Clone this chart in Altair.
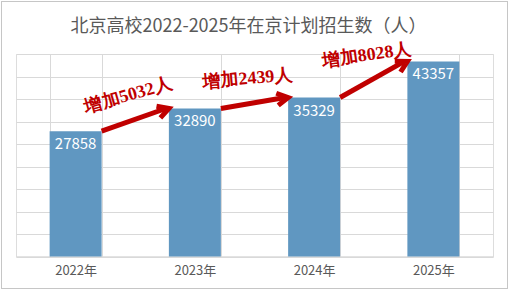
import math
import altair as alt
import pandas as pd

years = ["2022年", "2023年", "2024年", "2025年"]
values = [27858, 32890, 35329, 43357]
increase_labels = ["增加5032人", "增加2439人", "增加8028人"]
label_angles = [344, 355, 352]

W, H = 477, 202.5
YMAX = 45000
PAD_INNER = 0.564
HALF_BAR = (1 - PAD_INNER) / 2
N = len(values)
STEP_PX = W / N
PX_PER_VAL = H / YMAX

bars_df = pd.DataFrame({"year": years, "value": values})

rows = []
for i in range(N - 1):
    x0 = i + 0.5 + HALF_BAR
    x1 = i + 1.5 - HALF_BAR
    y0, y1 = values[i], values[i + 1]
    ang = math.degrees(math.atan2((y1 - y0) * PX_PER_VAL, (x1 - x0) * STEP_PX))
    mx, my = (x0 + x1) / 2, (y0 + y1) / 2
    rows.append(dict(
        x0=x0, x1=x1 - 3 / STEP_PX, y0=y0, y1=y1,
        hx=x1, hy=y1,
        head=(360 - ang) % 360,
        tx=mx - 7 / STEP_PX,
        ty=my + 24 / PX_PER_VAL,
        label=increase_labels[i],
        tangle=label_angles[i],
    ))
arrows_df = pd.DataFrame(rows)

FONT = "Noto Sans CJK SC"
RED = "#c00000"
GRID = "#d9d9d9"

xband = alt.Scale(paddingInner=PAD_INNER, paddingOuter=PAD_INNER / 2)
yscale = alt.Scale(domain=[0, YMAX], nice=False)
yaxis = alt.Axis(values=list(range(0, YMAX + 1, 5000)), labels=False, ticks=False,
                 domain=False, title=None, gridColor=GRID, grid=True)
xq = alt.Scale(domain=[0, N], nice=False, zero=False)

frame = alt.Chart(bars_df).mark_rect(filled=False, stroke="#c6c6c6", strokeWidth=1).encode(
    x=alt.value(-14.5), x2=alt.value(W + 14.5), y=alt.value(-52.5), y2=alt.value(H + 32)
)

bars = alt.Chart(bars_df).mark_bar(color="#6097c1").encode(
    x=alt.X("year:N", sort=years, scale=xband,
            axis=alt.Axis(title=None, labelAngle=0, ticks=False, domainColor=GRID,
                          grid=True, tickBand="extent", gridColor=GRID,
                          labelFontSize=13, labelColor="#595959", labelPadding=8,
                          labelFont=FONT)),
    y=alt.Y("value:Q", scale=yscale, axis=yaxis),
)

bar_labels = alt.Chart(bars_df).mark_text(color="white", fontSize=15, baseline="middle",
                                          dy=13, font=FONT).encode(
    x=alt.X("year:N", sort=years, scale=xband, axis=None),
    y=alt.Y("value:Q", scale=yscale, axis=yaxis),
    text="value:Q",
)

shafts = alt.Chart(arrows_df).mark_rule(color=RED, strokeWidth=5).encode(
    x=alt.X("x0:Q", scale=xq, axis=None),
    x2="x1:Q",
    y=alt.Y("y0:Q", scale=yscale, axis=yaxis),
    y2="y1:Q",
)

heads = alt.Chart(arrows_df).mark_point(
    shape="M-1.8,-1.0L0,0L-1.8,1.0", filled=False, color=RED, strokeWidth=5,
    size=150, opacity=1, strokeJoin="miter",
).encode(
    x=alt.X("hx:Q", scale=xq, axis=None),
    y=alt.Y("hy:Q", scale=yscale, axis=yaxis),
    angle=alt.Angle("head:Q", scale=None),
)

notes = alt.Chart(arrows_df).mark_text(
    font="Liberation Serif", fontWeight="bold", fontSize=18, color=RED,
    baseline="middle", align="center",
).encode(
    x=alt.X("tx:Q", scale=xq, axis=None),
    y=alt.Y("ty:Q", scale=yscale, axis=yaxis),
    text="label:N",
    angle=alt.Angle("tangle:Q", scale=None),
)

chart = alt.layer(frame, bars, bar_labels, shafts, heads, notes).resolve_scale(
    x="independent"
).properties(
    width=W, height=H,
    title=alt.TitleParams("北京高校2022-2025年在京计划招生数（人）", fontSize=18, font=FONT,
                          color="#595959", fontWeight="normal", anchor="middle",
                          frame="group", baseline="alphabetic",
                          offset=-49, dx=-6),
    padding={"left": 16, "top": 54, "right": 17, "bottom": 33.5},
    autosize=alt.AutoSizeParams(type="none"),
).configure_view(stroke=GRID).configure(background="white")

chart.save("out.html", embed_options={"renderer": "svg", "actions": False})
